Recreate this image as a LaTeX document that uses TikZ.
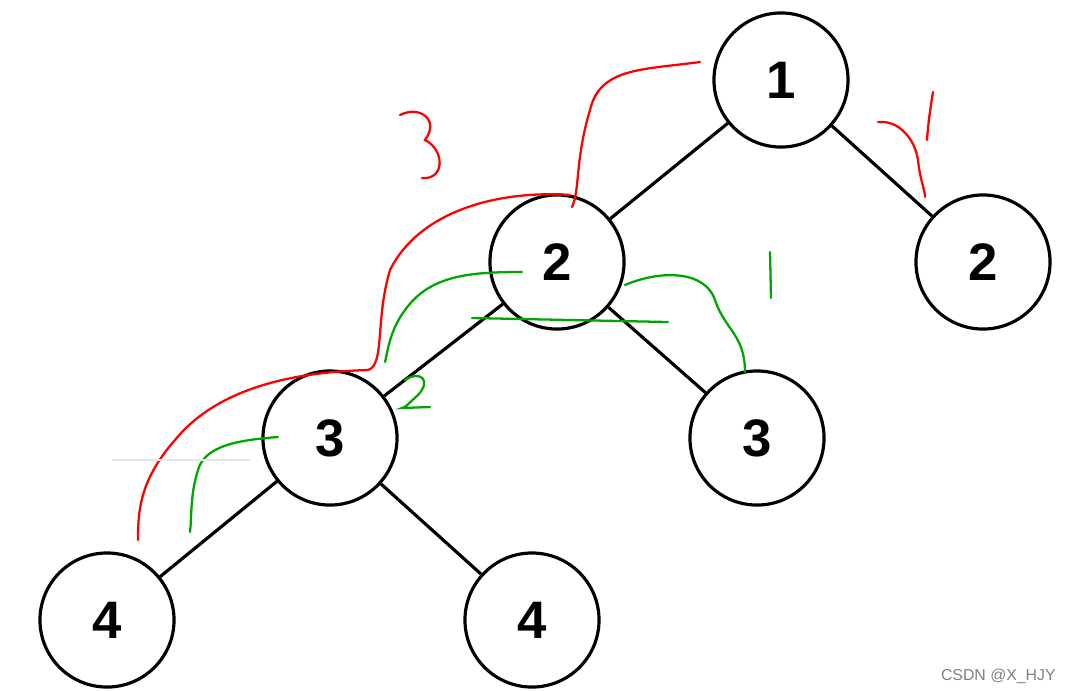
\documentclass[tikz,border=0pt]{standalone}
\usepackage{fontspec}
\setmainfont{Liberation Sans}
\begin{document}
\begin{tikzpicture}[x=0.01cm,y=-0.01cm,
  vertex/.style={circle,draw,line width=0.9pt,minimum size=1.34cm,inner sep=0pt,
    font=\fontsize{15}{17}\selectfont\bfseries},
  edge/.style={line width=0.9pt},
  redpen/.style={red,line width=0.65pt,line cap=round},
  greenpen/.style={green!65!black,line width=0.65pt,line cap=round}]
\useasboundingbox (0,0) rectangle (1076,690);

% tree
\node[vertex] (a)  at (781,80)  {1};
\node[vertex] (b)  at (557,262) {2};
\node[vertex] (c)  at (983,262) {2};
\node[vertex] (d)  at (330,438) {3};
\node[vertex] (e)  at (757,438) {3};
\node[vertex] (f)  at (107,620) {4};
\node[vertex] (g)  at (532,620) {4};

\draw[edge] (a) -- (b);
\draw[edge] (a) -- (c);
\draw[edge] (b) -- (d);
\draw[edge] (b) -- (e);
\draw[edge] (d) -- (f);
\draw[edge] (d) -- (g);

% red marks
\draw[redpen] (700,62) .. controls (640,70) and (600,68) .. (590,110) .. controls (575,160) and (580,190) .. (572,207);
\draw[redpen] (570,195) .. controls (500,190) and (420,210) .. (390,270) .. controls (375,320) and (385,365) .. (368,370)
  .. controls (300,372) and (220,385) .. (175,440) .. controls (140,480) and (138,510) .. (138,540);
\draw[redpen] (878,122) .. controls (900,120) and (915,140) .. (918,160) .. controls (920,180) and (925,190) .. (925,197);
\draw[redpen] (933,92) .. controls (930,110) and (928,125) .. (927,140);
\draw[redpen] (400,115) .. controls (420,105) and (440,120) .. (425,140) .. controls (445,150) and (445,180) .. (422,178);

% green marks
\draw[greenpen] (522,272) .. controls (470,272) and (430,275) .. (405,310) .. controls (390,330) and (388,350) .. (385,362);
\draw[greenpen] (625,285) .. controls (660,270) and (705,270) .. (715,300) .. controls (725,330) and (745,335) .. (745,372);
\draw[greenpen] (472,318) -- (668,322);
\draw[greenpen] (278,437) .. controls (240,440) and (205,445) .. (198,470) .. controls (190,495) and (192,515) .. (190,532);
\draw[greenpen] (770,252) -- (771,298);
\draw[greenpen] (405,380) .. controls (420,370) and (432,380) .. (418,395) .. controls (410,402) and (405,408) .. (402,408) -- (430,407);
\draw[gray!20,line width=0.4pt] (112,460) -- (250,460);

\node[font=\fontsize{4.5}{5}\selectfont,text=gray,anchor=east] (mark) at (1068,676) {CSDN @X\_HJY};
\end{tikzpicture}
\end{document}
